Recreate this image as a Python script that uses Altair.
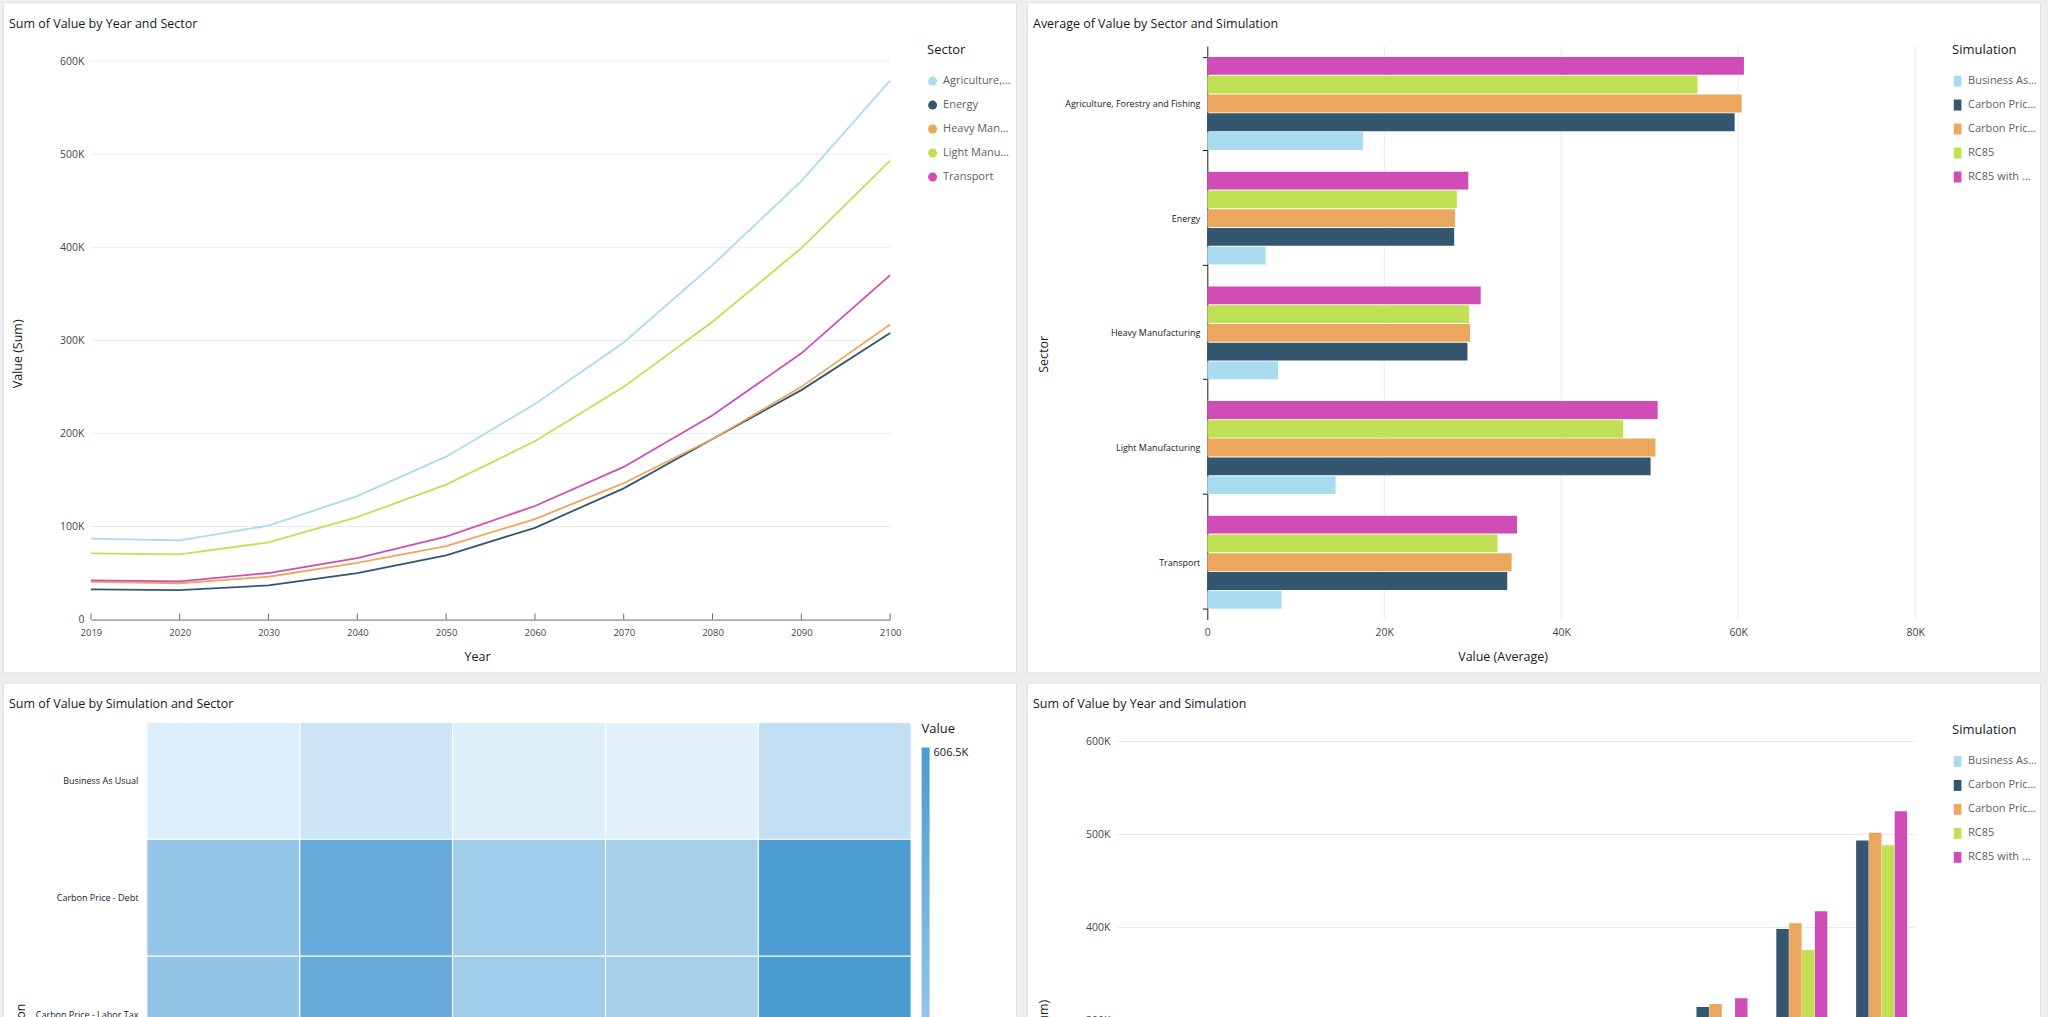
import altair as alt
import pandas as pd

# ---------------- data ----------------
years = ["2019", "2020", "2030", "2040", "2050", "2060", "2070", "2080", "2090", "2100"]
sectors = ["Agriculture, Forestry and Fishing", "Energy", "Heavy Manufacturing",
           "Light Manufacturing", "Transport"]
simulations = ["Business As Usual", "Carbon Price - Debt", "Carbon Price - Labor Tax",
               "RC85", "RC85 with Carbon Price"]
palette = ["#a9dcef", "#34566e", "#eca75f", "#bfe153", "#d04db8"]

# Sum of Value by Year and Sector (thousands), one list per sector
agri_by_year = [87, 85, 101, 132.6, 175, 231.6, 297.7, 381, 471, 579]
energy_by_year = [32.5, 31.6, 36.7, 50, 69, 98.6, 141, 194, 246.5, 308]
heavy_by_year = [40.5, 39, 46, 61, 79, 108, 146.5, 194, 250, 317]
light_by_year = [71, 70, 83, 110, 145, 191.6, 250, 320, 399, 493]
transport_by_year = [42, 41, 50, 66, 89, 122, 164, 219.5, 286, 370]

# Average of Value by Sector and Simulation (thousands), in sector order
bau_avg = [17.6, 6.6, 8.0, 14.5, 8.4]
cp_debt_avg = [59.6, 27.9, 29.4, 50.1, 33.9]
cp_labor_avg = [60.4, 28.0, 29.7, 50.65, 34.4]
rc85_avg = [55.4, 28.2, 29.6, 47.0, 32.8]
rc85_cp_avg = [60.65, 29.5, 30.9, 50.9, 35.0]

# Sum of Value by Simulation and Sector (thousands), in sector order
bau_sum = [176, 66, 80, 145, 84]
cp_debt_sum = [596, 279, 294, 501, 339]
cp_labor_sum = [604, 280, 297, 506.5, 344]
rc85_sum = [554, 282, 296, 470, 328]
rc85_cp_sum = [606.5, 295, 309, 509, 350]

# Sum of Value by Year and Simulation (thousands), in year order
bau_by_year = [55, 54, 55, 55, 55, 55, 56, 55, 55.7, 58]
cp_debt_by_year = [54.5, 53.2, 65, 90.5, 124.5, 172.5, 234, 314.7, 398.6, 493.5]
cp_labor_by_year = [54.6, 53.2, 65.5, 91.5, 126, 175, 237, 318, 404.7, 501.8]
rc85_by_year = [54.4, 53.2, 64.5, 88.5, 121, 166, 222, 297, 375.9, 488.5]
rc85_cp_by_year = [54.5, 53.2, 66.7, 94, 127, 178, 245, 324, 417.6, 525]

y_ticks = [0, 100000, 200000, 300000, 400000, 500000, 600000]
avg_ticks = [0, 20000, 40000, 60000, 80000]

titles = ["Sum of Value by Year and Sector", "Average of Value by Sector and Simulation",
          "Sum of Value by Simulation and Sector", "Sum of Value by Year and Simulation"]

# ---------------- tables ----------------
line_df = pd.DataFrame([
    {"Year": y, "Sector": s, "Value": v * 1000}
    for s, vals in zip(sectors, [agri_by_year, energy_by_year, heavy_by_year,
                                 light_by_year, transport_by_year])
    for y, v in zip(years, vals)
])
avg_df = pd.DataFrame([
    {"Sector": s, "Simulation": sim, "Value": v * 1000}
    for sim, vals in zip(simulations, [bau_avg, cp_debt_avg, cp_labor_avg, rc85_avg, rc85_cp_avg])
    for s, v in zip(sectors, vals)
])
heat_df = pd.DataFrame([
    {"Sector": s, "Simulation": sim, "Value": v * 1000}
    for sim, vals in zip(simulations, [bau_sum, cp_debt_sum, cp_labor_sum, rc85_sum, rc85_cp_sum])
    for s, v in zip(sectors, vals)
])
year_sim_df = pd.DataFrame([
    {"Year": y, "Simulation": sim, "Value": v * 1000}
    for sim, vals in zip(simulations, [bau_by_year, cp_debt_by_year, cp_labor_by_year,
                                       rc85_by_year, rc85_cp_by_year])
    for y, v in zip(years, vals)
])

# ---------------- style ----------------
FONT = "Open Sans"
TXT = "#16191f"
AXLBL = "#3f454d"
LEGLBL = "#596169"
GRID = "#e9ebed"
AXLINE = "#5f6b7a"
BG = "#eeeeee"
BORDER = "#e0e0e0"
PW, PH = 1014, 671
k_label = "datum.value == 0 ? '0' : format(datum.value / 1000, 'd') + 'K'"


def title_layer(text):
    return alt.Chart(pd.DataFrame({"title": [text]})).mark_text(
        align="left", baseline="middle", fontSize=12.5, color=TXT, font=FONT
    ).encode(text="title:N", x=alt.value(6), y=alt.value(22))


def sym_legend(title, shape, size, x, y):
    return alt.Legend(title=title, orient="none", legendX=x, legendY=y, symbolType=shape,
                      symbolSize=size, symbolOpacity=1, symbolStrokeWidth=0, labelLimit=69,
                      labelFontSize=11, labelColor=LEGLBL, titleFontSize=13,
                      titleFontWeight="normal", titleColor=TXT, titlePadding=19,
                      rowPadding=12, labelOffset=5, padding=0)


def y_value_axis(offset, title_x):
    return alt.Axis(orient="left", offset=offset, values=y_ticks, labelExpr=k_label,
                    labelFontSize=10.5, labelColor=AXLBL, labelPadding=7, ticks=False,
                    domain=False, grid=False, title="Value (Sum)", titleAngle=270,
                    titleX=title_x, titleY=351.5, titleBaseline="middle", titleFontSize=12.5,
                    titleFontWeight="normal", titleColor=TXT)


def year_axis(title_x):
    return alt.Axis(orient="bottom", offset=-53, title="Year", labelAngle=0,
                    labelFontSize=9.5, labelColor=AXLBL, labelPadding=8, ticks=False,
                    domain=True, domainColor=AXLINE, grid=False, labelFlush=False,
                    titleFontSize=12.5, titleColor=TXT, titleFontWeight="normal",
                    titleX=title_x, titleY=37, titleBaseline="middle")


# ---------------- A: line chart ----------------
xA = alt.Scale(type="point", domain=years, range=[88, 888], padding=0)
yA = alt.Scale(domain=[0, 600000], range=[618, 59], nice=False)
axAx = year_axis(474.5)
axAy = y_value_axis(-88, -73.7)

gridA = alt.Chart(pd.DataFrame({"Value": y_ticks[1:]})).mark_rule(color=GRID).encode(
    y=alt.Y("Value:Q", scale=yA, axis=axAy), x=alt.value(88), x2=alt.value(888))
ticksA = alt.Chart(pd.DataFrame({"Year": years})).mark_rule(color=AXLINE).encode(
    x=alt.X("Year:O", scale=xA, axis=axAx), y=alt.value(612), y2=alt.value(618))
linesA = alt.Chart(line_df).mark_line(strokeWidth=1.8).encode(
    x=alt.X("Year:O", scale=xA, axis=axAx),
    y=alt.Y("Value:Q", scale=yA, axis=axAy),
    stroke=alt.Stroke("Sector:N", scale=alt.Scale(domain=sectors, range=palette), legend=None),
)
ptsA = alt.Chart(line_df).mark_point(filled=True, opacity=0).encode(
    x=alt.X("Year:O", scale=xA, axis=axAx),
    y=alt.Y("Value:Q", scale=yA, axis=axAy),
    color=alt.Color("Sector:N", scale=alt.Scale(domain=sectors, range=palette),
                    legend=sym_legend("Sector", "circle", 81, 925, 41.5)),
)
chartA = alt.layer(title_layer(titles[0]), gridA, ticksA, linesA, ptsA).properties(
    width=PW, height=PH)

# ---------------- B: horizontal grouped bars ----------------
rect_path = "M-0.7,-1H0.7V1H-0.7Z"
xB = alt.Scale(domain=[0, 80000], range=[180.5, 889], nice=False)
yB = alt.Scale(domain=sectors, range=[44, 618], paddingInner=0.19, paddingOuter=0.095)
axBx = alt.Axis(orient="bottom", offset=-53, values=avg_ticks, labelExpr=k_label,
                labelFontSize=10.5, labelColor=AXLBL, labelPadding=8, ticks=False,
                domain=False, grid=False, labelFlush=False,
                title="Value (Average)", titleFontSize=12.5, titleColor=TXT,
                titleFontWeight="normal", titleX=476, titleY=37, titleBaseline="middle")

gridB = alt.Chart(pd.DataFrame({"Value": avg_ticks[1:]})).mark_rule(color=GRID).encode(
    x=alt.X("Value:Q", scale=xB, axis=axBx), y=alt.value(44), y2=alt.value(618))
barsB = alt.Chart(avg_df).mark_bar().encode(
    x=alt.X("Value:Q", scale=xB, axis=axBx),
    y=alt.Y("Sector:N", scale=yB,
            axis=alt.Axis(orient="left", offset=-180.5, domain=True, domainColor=TXT,
                          ticks=True, tickBand="extent", tickSize=5, tickColor=TXT,
                          labelPadding=2.5, labelFontSize=9, labelColor=TXT, grid=False,
                          title="Sector", titleAngle=270, titleX=-163.9, titleY=352,
                          titleBaseline="middle", titleFontSize=12.5, titleColor=TXT,
                          titleFontWeight="normal")),
    yOffset=alt.YOffset("Simulation:N",
                        scale=alt.Scale(domain=simulations[::-1], paddingInner=0.05)),
    color=alt.Color("Simulation:N", scale=alt.Scale(domain=simulations, range=palette),
                    legend=sym_legend("Simulation", rect_path, 121, 926, 41.5)),
)
chartB = alt.layer(title_layer(titles[1]), gridB, barsB).properties(width=PW, height=PH)

# ---------------- C: heatmap ----------------
xC = alt.Scale(domain=sorted(sectors, reverse=True), range=[144, 909],
               paddingInner=0, paddingOuter=0)
yC = alt.Scale(domain=simulations, range=[40, 625], paddingInner=0, paddingOuter=0)
heatC = alt.Chart(heat_df).mark_rect(stroke="white", strokeWidth=1).encode(
    x=alt.X("Sector:N", scale=xC,
            axis=alt.Axis(orient="bottom", offset=-46, labelAngle=0, ticks=False, domain=False,
                          labelFontSize=9, labelColor=TXT, title="Sector", titleFontSize=12.5,
                          titleColor=TXT, titleFontWeight="normal")),
    y=alt.Y("Simulation:N", scale=yC,
            axis=alt.Axis(orient="left", offset=-144, ticks=False, domain=False,
                          labelPadding=9, labelFontSize=9, labelColor=TXT,
                          title="Simulation", titleAngle=270, titleX=-126, titleY=352,
                          titleBaseline="middle", titleFontSize=12.5, titleColor=TXT,
                          titleFontWeight="normal")),
    color=alt.Color("Value:Q",
                    scale=alt.Scale(range=["#e2f1fb", "#4a9bd3"], interpolate="rgb"),
                    legend=alt.Legend(title="Value", orient="none", legendX=919.5,
                                      legendY=40.5, direction="vertical", gradientLength=560,
                                      gradientThickness=8, gradientStrokeWidth=0,
                                      values=[66000, 606500],
                                      labelExpr="format(datum.value / 1000, '.1f') + 'K'",
                                      labelFontSize=11, labelColor=TXT, labelOffset=4,
                                      titleFontSize=13, titleFontWeight="normal",
                                      titleColor=TXT, titlePadding=11.5, padding=0)),
)
chartC = alt.layer(title_layer(titles[2]), heatC).properties(width=PW, height=PH)

# ---------------- D: vertical grouped bars ----------------
xD = alt.Scale(domain=years, range=[90, 889], paddingInner=0.2, paddingOuter=0.1)
yD = alt.Scale(domain=[0, 600000], range=[618, 59], nice=False)
axDy = y_value_axis(-90, -73.4)
gridD = alt.Chart(pd.DataFrame({"Value": y_ticks[1:]})).mark_rule(color=GRID).encode(
    y=alt.Y("Value:Q", scale=yD, axis=axDy), x=alt.value(90), x2=alt.value(889))
barsD = alt.Chart(year_sim_df).mark_bar().encode(
    x=alt.X("Year:O", scale=xD, axis=year_axis(474.5)),
    xOffset=alt.XOffset("Simulation:N", scale=alt.Scale(domain=simulations, paddingInner=0.03)),
    y=alt.Y("Value:Q", scale=yD, axis=axDy),
    color=alt.Color("Simulation:N", scale=alt.Scale(domain=simulations, range=palette),
                    legend=sym_legend("Simulation", rect_path, 121, 926, 41.5)),
)
chartD = alt.layer(title_layer(titles[3]), gridD, barsD).properties(width=PW, height=PH)

# ---------------- dashboard ----------------
chart = alt.concat(
    chartA, chartB, chartC, chartD, columns=2, bounds="flush",
    spacing={"row": 10, "column": 11},
).properties(
    padding={"left": 2, "top": -3.5, "right": 7, "bottom": 2},
).configure(
    font=FONT, background=BG,
).configure_view(
    fill="white", stroke=BORDER, strokeWidth=1,
)

chart.save("out.html", embed_options={"renderer": "svg", "actions": False})
